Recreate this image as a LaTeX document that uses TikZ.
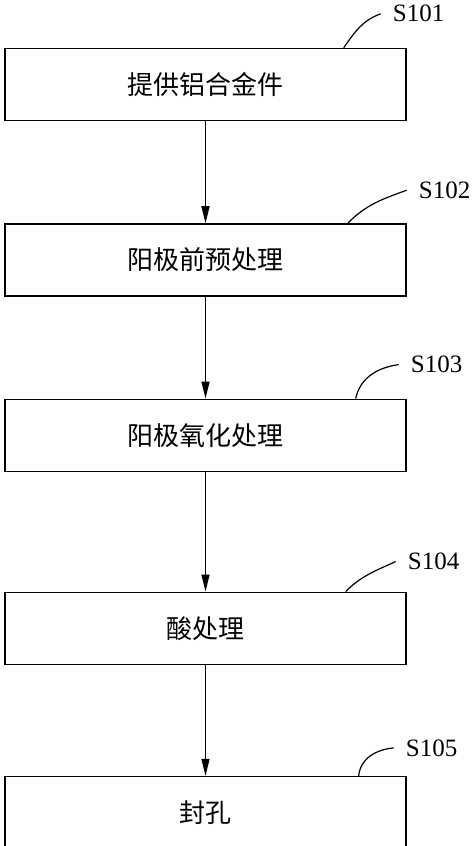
\documentclass[tikz,border=0pt]{standalone}
\usepackage{fontspec}
\setmainfont{Liberation Serif}
\newfontfamily\cjk{Noto Sans CJK SC}
\usetikzlibrary{arrows.meta,positioning}

\begin{document}
\begin{tikzpicture}[
      x=1pt, y=1pt,
      stepbox/.style={
         rectangle,
         draw=black,
         line width=1.4pt,
         inner sep=0pt,
         minimum width=401pt,
         minimum height=72pt,
         font=\cjk\fontsize{26}{30}\selectfont},
      steplabel/.style={
         anchor=west,
         inner xsep=12pt,
         inner ysep=0pt,
         font=\fontsize{25}{28}\selectfont},
      myarrow/.style={-{Triangle[length=17pt,width=8pt]}, line width=1.4pt},
      mycurve/.style={line width=1.2pt},
      node distance=102pt
      ]
      \useasboundingbox (0,0) rectangle (474,-846);
      \node[stepbox] (b1) at (205.5,-84.5) {提供铝合金件};
      \node[stepbox,below=of b1] (b2) {阳极前预处理};
      \node[stepbox,below=of b2] (b3) {阳极氧化处理};
      \node[stepbox,below=119.5pt of b3] (b4) {酸处理};
      \node[stepbox,below=111pt of b4] (b5) {封孔};

    \foreach \i/\j in {b1/b2, b2/b3, b3/b4, b4/b5}
       \draw [myarrow] (\i) -- (\j);

    \foreach \b/\txt/\dx/\dy/\sx/\ou/\ii in {% box/label/label shift/curve start/out/in
      b1/S101/-26/34/-63/55/200,
      b2/S102/0/33/-59/45/200,
      b3/S103/-8/34/-51/78/188,
      b4/S104/-11/30/-61/45/205,
      b5/S105/-13/28/-48/85/185}
    {
       \node[steplabel] (l\b) at ([xshift=\dx pt,yshift=\dy pt]\b.north east) {\txt};
       \draw [mycurve] ([xshift=\sx pt]\b.north east) to[out=\ou,in=\ii] (l\b.west);
    }
\end{tikzpicture}
\end{document}
